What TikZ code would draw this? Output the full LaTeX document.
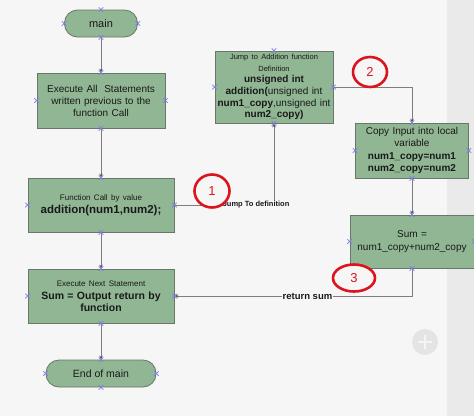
\documentclass[tikz,border=0pt]{standalone}
\usepackage{fontspec}
\setmainfont{Liberation Sans}
\usetikzlibrary{arrows.meta,shapes.geometric,shapes.misc}
\definecolor{bgcol}{RGB}{246,246,246}
\definecolor{panelcol}{RGB}{234,234,234}
\definecolor{boxgreen}{RGB}{145,182,147}
\definecolor{boxline}{RGB}{105,118,105}
\definecolor{linecol}{RGB}{125,125,125}
\definecolor{textcol}{RGB}{25,25,25}
\definecolor{pincol}{RGB}{125,125,225}
\definecolor{badgered}{RGB}{220,20,30}
\definecolor{plusgray}{RGB}{228,228,228}
\begin{document}
\begin{tikzpicture}[x=1pt,y=-1pt,
  box/.style={draw=boxline,fill=boxgreen,line width=0.8pt,align=center,inner sep=2pt,text=textcol},
  term/.style={box,rounded corners=13pt,minimum height=27pt},
  flow/.style={draw=linecol,line width=0.8pt,-{Stealth[length=4pt,width=3.5pt,color=black!65]}},
  lbl/.style={fill=bgcol,text=textcol,font=\bfseries\fontsize{7.5}{9}\selectfont,inner sep=1pt},
  badge/.style={ellipse,draw=badgered,line width=2.6pt,fill=bgcol,text=badgered,font=\fontsize{13}{13}\selectfont,inner sep=0pt},
  pin/.style={cross out,draw=pincol,minimum size=4pt,inner sep=0pt,line width=0.6pt}]
  \useasboundingbox (0,0) rectangle (474,416);
  \fill[bgcol] (0,0) rectangle (474,416);
  \fill[panelcol] (447,0) rectangle (474,416);
  \fill[plusgray] (425,342) circle (13);
  \draw[white!96!black,line width=1.2pt] (418,342) -- (432,342) (425,335) -- (425,349);

  \node[term,minimum width=73pt,font=\fontsize{11}{13}\selectfont] (main) at (101,23.5) {main};
  \node[box,minimum width=128pt,minimum height=55pt,text width=122pt,font=\fontsize{10}{12}\selectfont] (stmts) at (101,100.5)
    {Execute All\ \ Statements\\ written previous to the\\ function Call};
  \node[box,minimum width=146pt,minimum height=54pt,text width=140pt] (call) at (101,205)
    {{\fontsize{8}{10}\selectfont Function Call by value}\\[1pt]
     {\bfseries\fontsize{11.5}{13}\selectfont addition(num1,num2);}};
  \node[box,minimum width=146pt,minimum height=54pt,text width=140pt] (nextstmt) at (101,296)
    {{\fontsize{8}{10}\selectfont Execute Next Statement}\\[1pt]
     {\bfseries\fontsize{10.5}{12}\selectfont Sum = Output return by\\ function}};
  \node[term,minimum width=110pt,font=\fontsize{10.5}{12}\selectfont] (endmain) at (101,373.5) {End of main};

  \node[box,minimum width=118pt,minimum height=72pt,text width=114pt,font=\fontsize{10}{11.7}\selectfont] (jump) at (274,87)
    {{\fontsize{7.5}{10}\selectfont Jump to Addition function\\ Definition}\\
     \textbf{unsigned int}\\ \textbf{addition(}unsigned int\\ \textbf{num1\_copy},unsigned int\\ \textbf{num2\_copy)}};
  \node[box,minimum width=113pt,minimum height=55pt,text width=109pt,font=\fontsize{10}{12.3}\selectfont] (copyin) at (412,150.5)
    {Copy Input into local\\ variable\\ \textbf{num1\_copy=num1}\\ \textbf{num2\_copy=num2}};
  \node[box,minimum width=124pt,minimum height=53pt,text width=120pt,font=\fontsize{10}{13.5}\selectfont] (sum) at (412,241.5)
    {Sum =\\ num1\_copy+num2\_copy};

  \draw[flow] (main) -- (stmts);
  \draw[flow] (stmts) -- (call);
  \draw[flow] (call) -- (nextstmt);
  \draw[flow] (nextstmt) -- (endmain);
  \draw[flow] (call.east) -| node[lbl,pos=0.41] {Jump To definition} (jump.south);
  \draw[flow] (jump.east) -| (copyin.north);
  \draw[flow] (copyin) -- (sum);
  \draw[flow] (sum.south) |- node[lbl,pos=0.72,font=\bfseries\fontsize{9.5}{11}\selectfont] {return sum} (nextstmt.east);

  \foreach \n in {main,stmts,call,nextstmt,endmain,jump,copyin,sum}
    \foreach \a in {north,south,east,west}
      \node[pin] (\n-\a) at (\n.\a) {};

  \node[badge,minimum width=35pt,minimum height=33pt] (one) at (212,191) {1};
  \node[badge,minimum width=34pt,minimum height=30pt] (two) at (370,72) {2};
  \node[badge,minimum width=42pt,minimum height=27pt] (three) at (354,278) {3};
\end{tikzpicture}
\end{document}
